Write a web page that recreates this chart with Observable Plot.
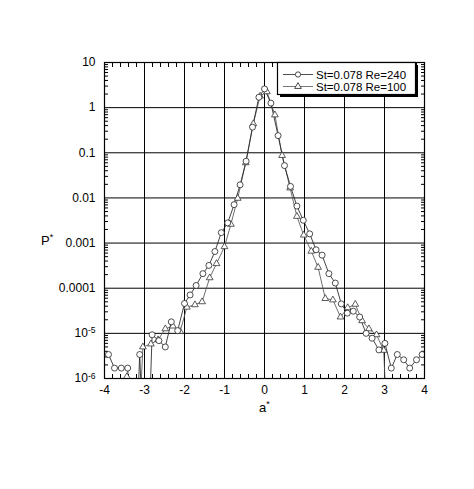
<!DOCTYPE html>
<html><head><meta charset="utf-8">
<script src="https://cdn.jsdelivr.net/npm/d3@7"></script>
<script src="https://cdn.jsdelivr.net/npm/@observablehq/plot@0.6"></script>
<style>
body{margin:0;background:#fff;}
#wrap{position:relative;width:474px;height:489px;font-family:"Liberation Sans",Arial,sans-serif;}
</style></head><body><div id="wrap"></div>
<script>
// Re = 240 (circles)
const xRe240 = [-3.90,-3.75,-3.58,-3.42,-3.27,-3.12,-2.96,-2.81,-2.64,-2.48,-2.33,-2.17,-2.00,-1.86,-1.71,-1.54,-1.39,-1.24,-1.08,-0.92,-0.76,-0.61,-0.46,-0.30,-0.14,0.00,0.16,0.34,0.50,0.65,0.81,0.97,1.13,1.29,1.44,1.61,1.77,1.92,2.07,2.22,2.38,2.54,2.69,2.86,3.01,3.17,3.32,3.48,3.63,3.80,3.94];
const pRe240 = [3.4e-6,1.7e-6,1.7e-6,1.7e-6,0,3.4e-6,0,9.3e-6,6.9e-6,5.0e-6,1.8e-5,1.15e-5,4.6e-5,7.1e-5,1.15e-4,2.1e-4,3.2e-4,6.5e-4,1.7e-3,2.8e-3,7.1e-3,0.0195,0.065,0.37,1.7,2.6,1.26,0.24,0.052,0.018,6.6e-3,3.2e-3,1.6e-3,7.1e-4,5.4e-4,2.1e-4,1.3e-4,4.5e-5,2.8e-5,3.1e-5,2.3e-5,1.0e-5,7.8e-6,4.3e-6,6.0e-6,1.7e-6,3.4e-6,2.6e-6,1.7e-6,2.6e-6,3.4e-6];
// Re = 100 (triangles)
const xRe100 = [-3.44,-3.24,-3.04,-2.84,-2.66,-2.48,-2.29,-2.11,-1.94,-1.74,-1.56,-1.37,-1.20,-1.00,-0.84,-0.67,-0.47,-0.28,-0.11,0.06,0.26,0.44,0.64,0.81,0.98,1.17,1.34,1.52,1.71,1.90,2.08,2.27,2.44,2.61,2.80,2.98,3.16];
const pRe100 = [1.1e-6,0,5.0e-6,5.8e-6,7.2e-6,1.26e-5,1.45e-5,1.1e-5,3.8e-5,4.3e-5,5.0e-5,1.7e-4,3.5e-4,8.3e-4,2.6e-3,9.8e-3,0.060,0.44,1.8,2.25,0.69,0.087,0.0166,3.9e-3,1.5e-3,6.6e-4,2.9e-4,5.9e-5,5.5e-5,2.3e-5,3.7e-5,4.4e-5,1.9e-5,1.26e-5,9.3e-6,4.2e-6,0];

const seriesNames = ["St=0.078 Re=240", "St=0.078 Re=100"];
const xTicks = [-4,-3,-2,-1,0,1,2,3,4];
const yTicks = [10,1,0.1,0.01,0.001,0.0001,1e-5,1e-6];
const yTickLabels = ["10","1","0.1","0.01","0.001","0.0001","10^-5","10^-6"];
const xLabel = "a";
const yLabel = "P";

const xMinor = d3.range(-40, 41, 2).map(v => v / 10);
const yMinor = [];
for (let k = -6; k < 1; k++) for (let m = 2; m <= 9; m++) yMinor.push(m * Math.pow(10, k));

const FLOOR = 1e-9; // zero-probability bins fall off the bottom of the log axis
const d240 = xRe240.map((x, i) => ({x, p: pRe240[i]}));
const d100 = xRe100.map((x, i) => ({x, p: pRe100[i]}));
const yv = d => d.p > 0 ? d.p : FLOOR;

const font = '"Liberation Sans", Arial, sans-serif';

const chart = Plot.plot({
  width: 474, height: 489,
  marginLeft: 104, marginRight: 50, marginTop: 62, marginBottom: 111,
  style: {fontFamily: font, fontSize: "12px", background: "white", color: "black", overflow: "visible"},
  x: {domain: [-4, 4]},
  y: {type: "log", domain: [1e-6, 10]},
  marks: [
    Plot.gridX(xTicks, {stroke: "black", strokeOpacity: 1, strokeWidth: 1}),
    Plot.gridY(yTicks, {stroke: "black", strokeOpacity: 1, strokeWidth: 1}),
    Plot.axisX({anchor: "bottom", ticks: xMinor, tickSize: -4, tickFormat: () => "", label: null}),
    Plot.axisX({anchor: "top", ticks: xMinor, tickSize: -4, tickFormat: () => "", label: null}),
    Plot.axisY({anchor: "left", ticks: yMinor, tickSize: -4, tickFormat: () => "", label: null}),
    Plot.axisY({anchor: "right", ticks: yMinor, tickSize: -4, tickFormat: () => "", label: null}),
    Plot.axisX({anchor: "bottom", ticks: xTicks, tickSize: 0, tickPadding: 7, tickFormat: d => String(d), label: null}),
    Plot.axisY({anchor: "left", ticks: yTicks, tickSize: 0, tickPadding: 9, tickFormat: d => yTickLabels[yTicks.indexOf(d)], label: null}),
    Plot.line(d100, {x: "x", y: yv, stroke: "#555", strokeWidth: 0.85, clip: true}),
    Plot.line(d240, {x: "x", y: yv, stroke: "#222", strokeWidth: 0.85, clip: true}),
    Plot.dot(d100.filter(d => d.p > 0), {x: "x", y: "p", symbol: "triangle", r: 2.5, stroke: "#333", strokeWidth: 0.8, fill: "white", clip: true}),
    Plot.dot(d240.filter(d => d.p > 0), {x: "x", y: "p", symbol: "circle", r: 3, stroke: "#222", strokeWidth: 0.8, fill: "white", clip: true}),
    Plot.frame({stroke: "black", strokeWidth: 1.2})
  ]
});

document.getElementById("wrap").appendChild(chart);
const svg = d3.select(chart);

// superscript exponents on y tick labels
svg.selectAll('[aria-label="y-axis tick label"] text').each(function() {
  const s = this.textContent;
  if (s.includes("^")) {
    const [b, e] = s.split("^");
    const t = d3.select(this);
    t.text("");
    t.append("tspan").text(b);
    t.append("tspan").attr("dy", "-0.45em").attr("font-size", "8.5px").text(e);
  }
});

// axis titles
const yt = svg.append("text").attr("x", 41).attr("y", 245).attr("text-anchor", "start").attr("font-family", font).attr("font-size", "13px").attr("fill", "black");
yt.append("tspan").text(yLabel);
yt.append("tspan").attr("dy", "-0.55em").attr("font-size", "9px").text("*");
const xt = svg.append("text").attr("x", 259).attr("y", 412).attr("text-anchor", "start").attr("font-family", font).attr("font-size", "13px").attr("fill", "black");
xt.append("tspan").text(xLabel);
xt.append("tspan").attr("dy", "-0.55em").attr("font-size", "9px").text("*");

// legend box
const L = svg.append("g");
L.append("rect").attr("x", 280).attr("y", 65).attr("width", 138).attr("height", 32).attr("fill", "black");
L.append("rect").attr("x", 277.5).attr("y", 62.5).attr("width", 138).attr("height", 32).attr("fill", "white").attr("stroke", "black").attr("stroke-width", 1.2);
const rows = [
  {y: 74.5, sym: d3.symbolCircle, size: Math.PI * 7, stroke: "#222"},
  {y: 86.5, sym: d3.symbolTriangle, size: Math.PI * 6.25, stroke: "#555"}
];
rows.forEach((r, i) => {
  L.append("line").attr("x1", 283).attr("x2", 313).attr("y1", r.y).attr("y2", r.y).attr("stroke", r.stroke).attr("stroke-width", 0.8);
  L.append("path").attr("d", d3.symbol(r.sym, r.size)()).attr("transform", `translate(298,${r.y})`).attr("fill", "white").attr("stroke", "#222").attr("stroke-width", 0.8);
  L.append("text").attr("x", 316).attr("y", r.y).attr("dy", "0.35em").attr("text-anchor", "start").attr("font-family", font).attr("font-size", "11.5px").attr("fill", "black").text(seriesNames[i]);
});
</script>
</body></html>
